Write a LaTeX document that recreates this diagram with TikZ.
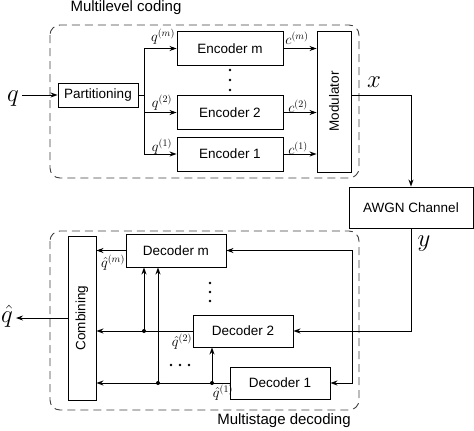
\documentclass[tikz,border=0pt]{standalone}
\usepackage[no-math]{fontspec}
\setmainfont{Liberation Sans}
\usetikzlibrary{arrows.meta,calc}
\tikzset{
	blk/.style={draw, line width=0.9pt, inner sep=0pt, font=\fontsize{13.5}{16}\selectfont},
	lnk/.style={line width=0.9pt, -{Stealth[length=7pt,width=5pt]}},
	wire/.style={line width=0.9pt},
	grp/.style={draw, black!75, line width=0.9pt, dash pattern=on 8pt off 5pt, rounded corners=10pt},
	sml/.style={inner sep=0pt, font=\fontsize{14}{17}\selectfont},
	big/.style={inner sep=0pt, font=\fontsize{25}{30}\selectfont},
	ttl/.style={inner sep=0pt, font=\fontsize{15}{18}\selectfont},
}
\def\jdot(#1){\fill (#1) circle (2pt);}

\begin{document}
\begin{tikzpicture}[x=1pt,y=-1pt]
			%%%%% START %%%%%
			\useasboundingbox (0,0) rectangle (474,431);
			
			\draw[grp] (50,25) rectangle (359,178);
			\draw[grp] (50,231) rectangle (359,410);
			\node[ttl] (tenc) at (126,8) {Multilevel coding};
			\node[ttl] (tdec) at (284,421) {Multistage decoding};
			
			% multilevel coding
			\node[blk, minimum width=80pt, minimum height=24pt] (part) at (98,95) {Partitioning};
			\node[blk, minimum width=106pt, minimum height=34pt] (encm) at (230,48.5) {Encoder m};
			\node[blk, minimum width=106pt, minimum height=34pt] (enc2) at (230,112.5) {Encoder 2};
			\node[blk, minimum width=106pt, minimum height=34pt] (enc1) at (230,154) {Encoder 1};
			\node[blk, minimum width=34pt, minimum height=141pt] (mod) at (334,101.5) {\rotatebox{90}{Modulator}};
			\node[blk, minimum width=124pt, minimum height=41pt] (chan) at (411,207.5) {AWGN Channel};
			
			\node[big] (q) at (13,99) {$q$};
			\node[big] (x) at (374,82) {$x$};
			\node[big] (y) at (424,244) {$y$};
			
			\coordinate (fork) at (144,95);
			\draw[lnk, shorten <=3pt] (q.east |- part.west) -- (part.west);
			\draw[wire] (part.east) -- (fork);
			\draw[lnk] (fork) |- (encm.west);
			\draw[lnk] (fork) |- (enc2.west);
			\draw[lnk] (fork) |- (enc1.west);
			\draw[lnk] (encm.east) -- (encm.east -| mod.west);
			\draw[lnk] (enc2.east) -- (enc2.east -| mod.west);
			\draw[lnk] (enc1.east) -- (enc1.east -| mod.west);
			\draw[lnk] (mod.east |- part.east) -| (chan.north);
			\foreach \y in {70,80,90} \fill (230,\y) circle (1.3pt);
			
			\node[sml] (qm) at (163,37) {$q^{(m)}$};
			\node[sml] (q2) at (162,103) {$q^{(2)}$};
			\node[sml] (q1) at (162,147) {$q^{(1)}$};
			\node[sml] (cm) at (297,38) {$c^{(m)}$};
			\node[sml] (c2) at (298,106) {$c^{(2)}$};
			\node[sml] (c1) at (298,148) {$c^{(1)}$};
			
			% multistage decoding
			\node[blk, minimum width=28pt, minimum height=164pt] (comb) at (82,318) {\rotatebox{90}{Combining}};
			\node[blk, minimum width=100pt, minimum height=33pt] (decm) at (176,250.5) {Decoder m};
			\node[blk, minimum width=100pt, minimum height=32pt] (dec2) at (243,331) {Decoder 2};
			\node[blk, minimum width=100pt, minimum height=32pt] (dec1) at (280,383) {Decoder 1};
			\node[big] (qhat) at (7,316) {$\hat{q}$};
			
			\coordinate (ysplit) at (352,331);
			\draw[lnk] (chan.south) |- (dec2.east);
			\draw[lnk] (ysplit) |- (decm.east);
			\draw[lnk] (ysplit) |- (dec1.east);
			
			\draw[lnk] (decm.west) -- (decm.west -| comb.east);
			\draw[lnk] (dec2.west) -- (dec2.west -| comb.east);
			\draw[lnk] (dec1.west) -- (dec1.west -| comb.east);
			\draw[lnk, shorten >=3pt] (comb.west) -- (qhat.east |- comb.west);
			
			\coordinate (j2) at (144,331);
			\coordinate (j1a) at (158,383);
			\coordinate (j1b) at (212,383);
			\draw[lnk] (j2) -- (j2 |- decm.south);
			\draw[lnk] (j1a) -- (j1a |- decm.south);
			\draw[lnk] (j1b) -- (j1b |- dec2.south);
			\jdot(j2) \jdot(j1a) \jdot(j1b)
			\foreach \y in {283,292,301} \fill (210,\y) circle (1.3pt);
			\foreach \x in {171,180,189} \fill (\x,365) circle (1.3pt);
			
			\node[sml] (qhm) at (113,263) {$\hat{q}^{(m)}$};
			\node[sml] (qh2) at (182,342) {$\hat{q}^{(2)}$};
			\node[sml] (qh1) at (223,393) {$\hat{q}^{(1)}$};
			%%%%% END %%%%%
\end{tikzpicture}
\end{document}
